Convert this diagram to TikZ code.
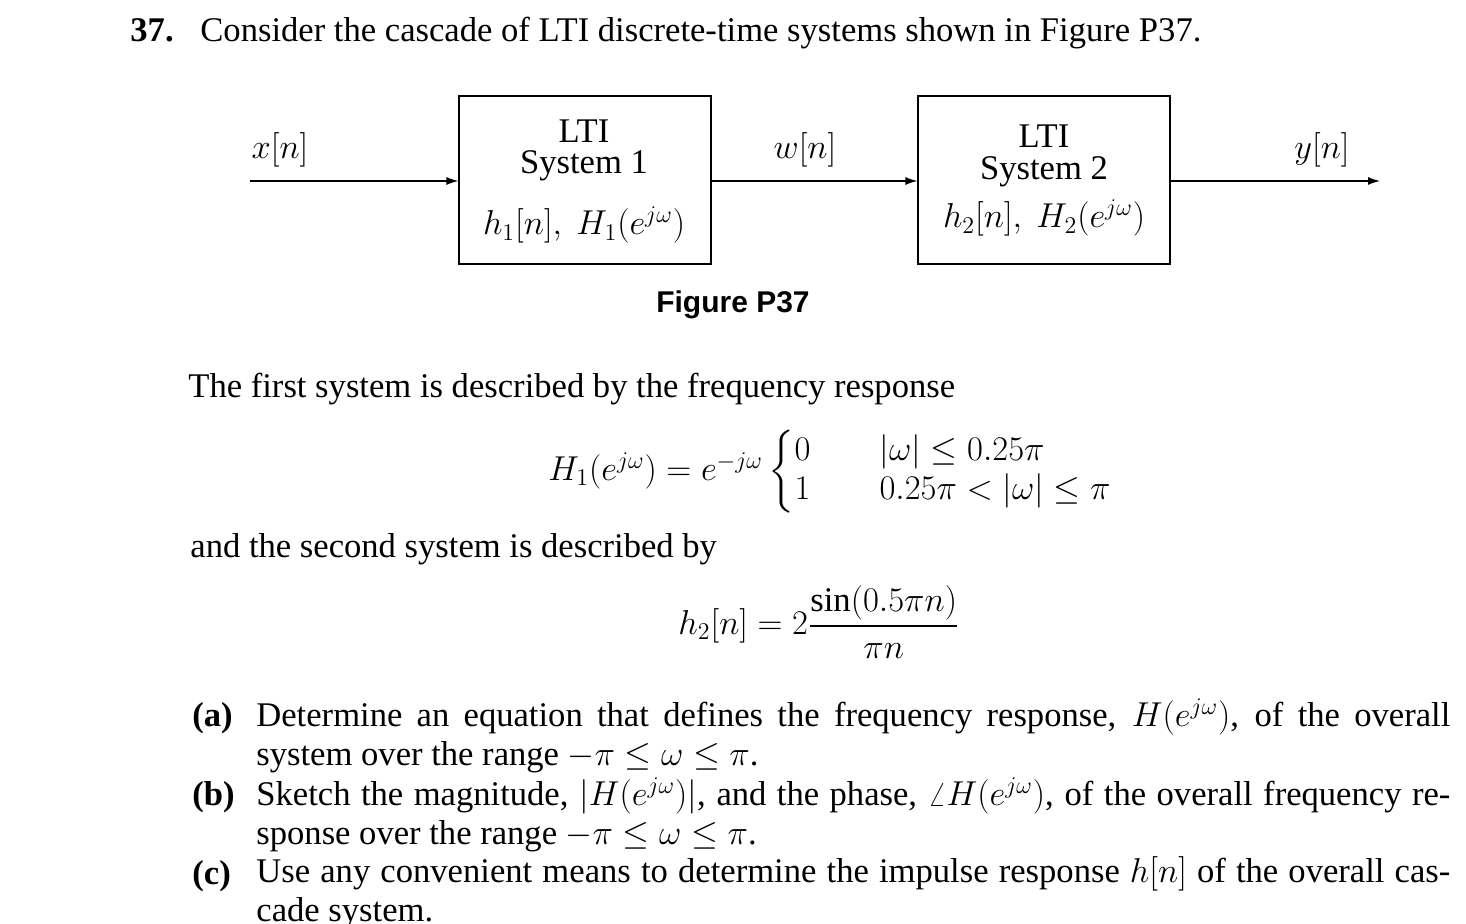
\documentclass[tikz,border=0pt]{standalone}
\usepackage{amsmath}
\usepackage{fontspec}
\setmainfont{Liberation Serif}
\newfontfamily\figfont{Liberation Sans}
\usetikzlibrary{arrows.meta}
\begin{document}
\begin{tikzpicture}[x=0.5pt,y=-0.5pt,
  every node/.style={font=\fontsize{17.3}{19.5}\selectfont, inner sep=0pt},
  sysbox/.style={draw, line width=0.6pt},
  sig/.style={line width=0.6pt, -{Latex[length=6pt,width=4pt]}}]
\useasboundingbox (0,0) rectangle (1466,924);
\node[anchor=base west] (num) at (130,42) {\textbf{37.}};
\node[anchor=base west] (title) at (200,42) {Consider the cascade of LTI discrete-time systems shown in Figure P37.};
% boxes
\node[sysbox, minimum width=126pt, minimum height=84pt] (b1) at (585,180) {};
\node[sysbox, minimum width=126pt, minimum height=84pt] (b2) at (1044,180) {};
\coordinate (in) at (250,181);
\coordinate (out) at (1380,181);
\draw[sig] (in) -- (in -| b1.west);
\draw[sig] (b1.east |- in) -- (b2.west |- in);
\draw[sig] (b2.east |- in) -- (out);
\node (xl) at (280,150) {$x[n]$};
\node (wl) at (805,150) {$w[n]$};
\node (yl) at (1322,150) {$y[n]$};
\node (b1a) at (584,131) {LTI};
\node (b1b) at (584,166) {System 1};
\node (b1c) at (584,225) {$h_1[n],\ H_1(e^{j\omega})$};
\node (b2a) at (1044,136) {LTI};
\node (b2b) at (1044,172) {System 2};
\node (b2c) at (1044,218) {$h_2[n],\ H_2(e^{j\omega})$};
\node (fig) at (733,305) {\figfont\bfseries\fontsize{15}{17}\selectfont Figure P37};
\node[anchor=base west] (t1) at (188,398) {The first system is described by the frequency response};
\node[anchor=west] (eq1) at (548,472) {$H_1(e^{j\omega}) = e^{-j\omega}\left\{\begin{array}{@{}l@{\qquad}l@{}}0 & |\omega|\le 0.25\pi\\ 1 & 0.25\pi<|\omega|\le\pi\end{array}\right.$};
\node[anchor=base west] (t2) at (190,558) {and the second system is described by};
\node[anchor=west] (eq2) at (678,622) {$h_2[n] = 2\dfrac{\sin(0.5\pi n)}{\pi n}$};
\node[anchor=base west] (la) at (192,726) {\textbf{(a)}};
\node[anchor=base west] (lb) at (192,805) {\textbf{(b)}};
\node[anchor=base west] (lc) at (192,884) {\textbf{(c)}};
\node[anchor=north west, text width=597pt, align=justify] (pa) at (256,698) {Determine an equation that defines the frequency response, $H(e^{j\omega})$, of the overall\break system over the range $-\pi\le\omega\le\pi$.};
\node[anchor=north west, text width=597pt, align=justify] (pb) at (256,777) {Sketch the magnitude, $|H(e^{j\omega})|$, and the phase, $\angle H(e^{j\omega})$, of the overall frequency re-\break sponse over the range $-\pi\le\omega\le\pi$.};
\node[anchor=north west, text width=597pt, align=justify] (pc) at (256,856) {Use any convenient means to determine the impulse response $h[n]$ of the overall cas-\break cade system.};
\end{tikzpicture}
\end{document}
